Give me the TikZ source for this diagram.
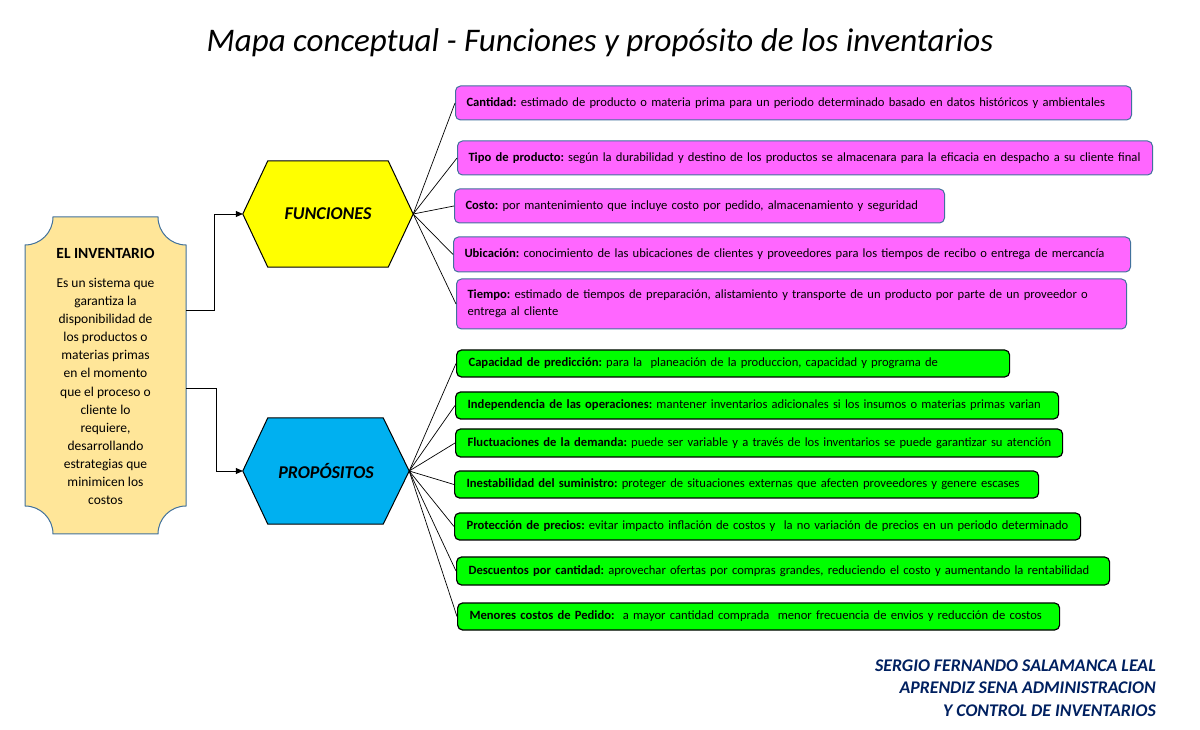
\documentclass[tikz,border=0pt]{standalone}
\usepackage{fontspec}
\setmainfont{Carlito}
\usetikzlibrary{arrows.meta,calc,backgrounds}
\definecolor{pinkf}{HTML}{FF66FF}
\definecolor{greenf}{HTML}{00FF00}
\definecolor{bordblue}{HTML}{41719C}
\definecolor{hexyellow}{HTML}{FFFF00}
\definecolor{hexblue}{HTML}{00B0F0}
\definecolor{plaquef}{HTML}{FFE699}
\definecolor{navy}{HTML}{002060}
\frenchspacing
\begin{document}
\frenchspacing
\hyphenpenalty=10000
\begin{tikzpicture}[x=1pt,y=1pt,
  pbox/.style={draw=bordblue, fill=pinkf, rounded corners=5pt, line width=1pt, anchor=west,
    inner xsep=11pt, inner ysep=0pt, align=left, text width=#1,
    font=\fontsize{12.6}{17}\selectfont},
  gbox/.style={draw=black, fill=greenf, rounded corners=5pt, line width=1.2pt, anchor=west,
    inner xsep=12pt, inner ysep=0pt, align=left, text width=#1, minimum height=27pt,
    font=\fontsize{12.6}{17}\selectfont},
  hexn/.style={shape=rectangle, inner sep=0pt, minimum height=106pt,
    font=\fontsize{18}{21}\selectfont\bfseries\itshape},
  hexdraw/.style={draw=black, line width=1pt},
  conn/.style={draw=black, line width=0.7pt},
  arr/.style={conn, -{Triangle[length=7pt,width=6pt]}}
]
\useasboundingbox (0,0) rectangle (1200,729);

% title
\node[font=\fontsize{33}{38}\selectfont\itshape] (title) at (600,686)
  {Mapa conceptual - Funciones y propósito de los inventarios};

% left plaque
\draw[draw=bordblue, fill=plaquef, line width=1pt]
  (53,512) -- (158,512) arc(180:270:28) -- (186,223) arc(90:180:28)
  -- (53,195) arc(0:90:28) -- (25,484) arc(270:360:28) -- cycle;
\node[shape=rectangle, inner sep=0pt, minimum width=161pt, minimum height=317pt,
  align=center, font=\fontsize{13.5}{18.1}\selectfont] (inv) at (105.5,352.5)
  {{\fontsize{15.5}{18.1}\selectfont\textbf{EL INVENTARIO}}\\[11pt]
   Es un sistema que\\ garantiza la\\ disponibilidad de\\ los productos o\\
   materias primas\\ en el momento\\ que el proceso o\\ cliente lo\\ requiere,\\
   desarrollando\\ estrategias que\\ minimicen los\\ costos};

% hexagons
\node[hexn, minimum width=170pt] (fun) at (328,515) {FUNCIONES};
\node[hexn, minimum width=166pt] (pro) at (326,258) {PROPÓSITOS};
\begin{pgfonlayer}{background}
\draw[hexdraw, fill=hexyellow] (fun.west) -- ($(fun.north west)+(25,0)$)
  -- ($(fun.north east)+(-25,0)$) -- (fun.east) -- ($(fun.south east)+(-25,0)$)
  -- ($(fun.south west)+(25,0)$) -- cycle;
\draw[hexdraw, fill=hexblue] (pro.west) -- ($(pro.north west)+(25,0)$)
  -- ($(pro.north east)+(-26,0)$) -- (pro.east) -- ($(pro.south east)+(-26,0)$)
  -- ($(pro.south west)+(25,0)$) -- cycle;
\end{pgfonlayer}

% connectors from inventory
\draw[arr] (inv.east |- 0,419) -- (214,419) |- (fun.west);
\draw[arr] (inv.east |- 0,341) -- (216,341) |- (pro.west);

% pink boxes
\node[pbox=654pt, minimum height=34pt] (p1) at (455,626)
  {\textbf{Cantidad:} estimado de producto o materia prima para un periodo determinado basado en datos históricos y ambientales};
\node[pbox=673pt, minimum height=34pt] (p2) at (457,571)
  {\textbf{Tipo de producto:} según la durabilidad y destino de los productos se almacenara para la eficacia en despacho a su cliente final};
\node[pbox=468pt, minimum height=34pt] (p3) at (454,523)
  {\textbf{Costo:} por mantenimiento que incluye costo por pedido, almacenamiento y seguridad};
\node[pbox=655pt, minimum height=35pt] (p4) at (453,474.5)
  {\textbf{Ubicación:} conocimiento de las ubicaciones de clientes y proveedores para los tiempos de recibo o entrega de mercancía};
\node[pbox=648pt, minimum height=50pt] (p5) at (456,425)
  {\textbf{Tiempo:} estimado de tiempos de preparación, alistamiento y transporte de un producto por parte de un proveedor o\\ entrega al cliente};

\foreach \n in {p1,p2,p3,p4,p5} \draw[conn] (fun.east) -- (\n.west);

% green boxes
\node[gbox=529pt] (g1) at (456,365.5)
  {\textbf{Capacidad de predicción:} para la~ planeación de la produccion, capacidad y programa de};
\node[gbox=579pt] (g2) at (455,323.5)
  {\textbf{Independencia de las operaciones:} mantener inventarios adicionales si los insumos o materias primas varian};
\node[gbox=583pt, minimum height=28pt] (g3) at (455,286)
  {\mbox{\textbf{Fluctuaciones de la demanda:} puede ser variable y a través de los inventarios se puede garantizar su atención}};
\node[gbox=560pt] (g4) at (454,244.5)
  {\textbf{Inestabilidad del suministro:} proteger de situaciones externas que afecten proveedores y genere escases};
\node[gbox=602pt] (g5) at (454,202.5)
  {\textbf{Protección de precios:} evitar impacto inflación de costos y~ la no variación de precios en un periodo determinado};
\node[gbox=629pt, minimum height=28pt] (g6) at (456,158)
  {\textbf{Descuentos por cantidad:} aprovechar ofertas por compras grandes, reduciendo el costo y aumentando la rentabilidad};
\node[gbox=578pt] (g7) at (457,112.5)
  {\textbf{Menores costos de Pedido:}~ a mayor cantidad comprada~ menor frecuencia de envios y reducción de costos};

\foreach \n in {g1,g2,g3,g4,g5,g6,g7} \draw[conn] (pro.east) -- (\n.west);

% footer
\node[anchor=east, align=right, text=navy, inner sep=0pt,
  font=\fontsize{17.8}{22.5}\selectfont\bfseries\itshape] (foot) at (1156,41)
  {SERGIO FERNANDO SALAMANCA LEAL\\ APRENDIZ SENA ADMINISTRACION\\ Y CONTROL DE INVENTARIOS};
\end{tikzpicture}
\end{document}
